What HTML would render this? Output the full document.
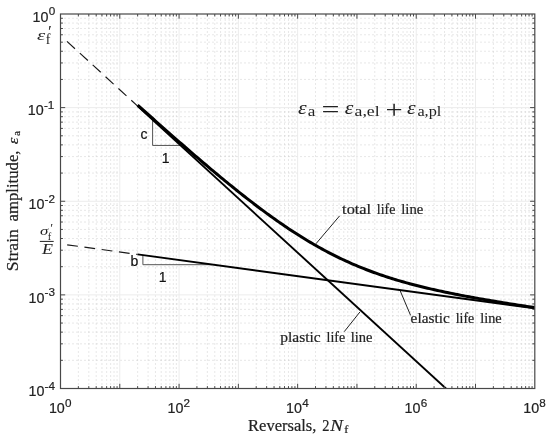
<!DOCTYPE html>
<html lang="en"><head><meta charset="utf-8"><title>Strain-life curve</title>
<style>html,body{margin:0;padding:0;background:#fff}svg{display:block}</style></head>
<body>
<svg width="550" height="439" viewBox="0 0 550 439">
<rect width="550" height="439" fill="#fff"/>
<g stroke="#c4c4c4" stroke-width="0.8" stroke-dasharray="1 3" fill="none">
<path d="M78.35 388.5V14.0"/>
<path d="M88.79 388.5V14.0"/>
<path d="M96.19 388.5V14.0"/>
<path d="M101.94 388.5V14.0"/>
<path d="M106.63 388.5V14.0"/>
<path d="M110.60 388.5V14.0"/>
<path d="M114.04 388.5V14.0"/>
<path d="M117.07 388.5V14.0"/>
<path d="M137.63 388.5V14.0"/>
<path d="M148.07 388.5V14.0"/>
<path d="M155.48 388.5V14.0"/>
<path d="M161.23 388.5V14.0"/>
<path d="M165.92 388.5V14.0"/>
<path d="M169.89 388.5V14.0"/>
<path d="M173.33 388.5V14.0"/>
<path d="M176.36 388.5V14.0"/>
<path d="M196.92 388.5V14.0"/>
<path d="M207.36 388.5V14.0"/>
<path d="M214.77 388.5V14.0"/>
<path d="M220.52 388.5V14.0"/>
<path d="M225.21 388.5V14.0"/>
<path d="M229.18 388.5V14.0"/>
<path d="M232.62 388.5V14.0"/>
<path d="M235.65 388.5V14.0"/>
<path d="M256.21 388.5V14.0"/>
<path d="M266.65 388.5V14.0"/>
<path d="M274.06 388.5V14.0"/>
<path d="M279.80 388.5V14.0"/>
<path d="M284.50 388.5V14.0"/>
<path d="M288.47 388.5V14.0"/>
<path d="M291.90 388.5V14.0"/>
<path d="M294.94 388.5V14.0"/>
<path d="M315.50 388.5V14.0"/>
<path d="M325.94 388.5V14.0"/>
<path d="M333.34 388.5V14.0"/>
<path d="M339.09 388.5V14.0"/>
<path d="M343.78 388.5V14.0"/>
<path d="M347.75 388.5V14.0"/>
<path d="M351.19 388.5V14.0"/>
<path d="M354.22 388.5V14.0"/>
<path d="M374.78 388.5V14.0"/>
<path d="M385.22 388.5V14.0"/>
<path d="M392.63 388.5V14.0"/>
<path d="M398.38 388.5V14.0"/>
<path d="M403.07 388.5V14.0"/>
<path d="M407.04 388.5V14.0"/>
<path d="M410.48 388.5V14.0"/>
<path d="M413.51 388.5V14.0"/>
<path d="M434.07 388.5V14.0"/>
<path d="M444.51 388.5V14.0"/>
<path d="M451.92 388.5V14.0"/>
<path d="M457.67 388.5V14.0"/>
<path d="M462.36 388.5V14.0"/>
<path d="M466.33 388.5V14.0"/>
<path d="M469.77 388.5V14.0"/>
<path d="M472.80 388.5V14.0"/>
<path d="M493.36 388.5V14.0"/>
<path d="M503.80 388.5V14.0"/>
<path d="M511.21 388.5V14.0"/>
<path d="M516.95 388.5V14.0"/>
<path d="M521.65 388.5V14.0"/>
<path d="M525.62 388.5V14.0"/>
<path d="M529.05 388.5V14.0"/>
<path d="M532.09 388.5V14.0"/>
<path d="M60.5 79.44H534.8"/>
<path d="M60.5 62.95H534.8"/>
<path d="M60.5 51.26H534.8"/>
<path d="M60.5 42.18H534.8"/>
<path d="M60.5 34.77H534.8"/>
<path d="M60.5 28.50H534.8"/>
<path d="M60.5 23.07H534.8"/>
<path d="M60.5 18.28H534.8"/>
<path d="M60.5 173.07H534.8"/>
<path d="M60.5 156.58H534.8"/>
<path d="M60.5 144.88H534.8"/>
<path d="M60.5 135.81H534.8"/>
<path d="M60.5 128.40H534.8"/>
<path d="M60.5 122.13H534.8"/>
<path d="M60.5 116.70H534.8"/>
<path d="M60.5 111.91H534.8"/>
<path d="M60.5 266.69H534.8"/>
<path d="M60.5 250.20H534.8"/>
<path d="M60.5 238.51H534.8"/>
<path d="M60.5 229.43H534.8"/>
<path d="M60.5 222.02H534.8"/>
<path d="M60.5 215.75H534.8"/>
<path d="M60.5 210.32H534.8"/>
<path d="M60.5 205.53H534.8"/>
<path d="M60.5 360.32H534.8"/>
<path d="M60.5 343.83H534.8"/>
<path d="M60.5 332.13H534.8"/>
<path d="M60.5 323.06H534.8"/>
<path d="M60.5 315.65H534.8"/>
<path d="M60.5 309.38H534.8"/>
<path d="M60.5 303.95H534.8"/>
<path d="M60.5 299.16H534.8"/>
</g>
<g stroke="#ececec" stroke-width="1" fill="none">
<path d="M119.79 388.5V14.0"/>
<path d="M179.07 388.5V14.0"/>
<path d="M238.36 388.5V14.0"/>
<path d="M297.65 388.5V14.0"/>
<path d="M356.94 388.5V14.0"/>
<path d="M416.22 388.5V14.0"/>
<path d="M475.51 388.5V14.0"/>
<path d="M60.5 107.62H534.8"/>
<path d="M60.5 201.25H534.8"/>
<path d="M60.5 294.88H534.8"/>
</g>
<clipPath id="cp"><rect x="60.5" y="14.0" width="474.29999999999995" height="374.5"/></clipPath>
<g clip-path="url(#cp)" fill="none" stroke="#000">
<path d="M137.63 106.10L60.50 35.45" stroke-dasharray="8.6 6.55 10.9 6.55 10.9 6.55 10.9 6.55 10.9 6.55 10.9 300" stroke="#1a1a1a" stroke-width="1.15"/>
<path d="M137.63 254.41L60.50 243.94" stroke-dasharray="1.5 6.6 10.8 6.6 10.8 6.6 10.8 6.6 10.8 300" stroke="#1a1a1a" stroke-width="1.15"/>
<path d="M152.6 117.93V145.45H181" stroke-width="1" stroke="#555"/>
<path d="M142.9 255.19V264.7H212" stroke-width="1" stroke="#555"/>
<path d="M137.63 106.10L534.80 469.87" stroke-width="1.9"/>
<path d="M137.63 254.41L534.80 308.35" stroke-width="1.9"/>
<path d="M137.63 105.06L139.62 106.84L141.61 108.61L143.59 110.39L145.58 112.16L147.56 113.94L149.55 115.71L151.54 117.47L153.52 119.24L155.51 121.01L157.49 122.77L159.48 124.53L161.46 126.29L163.45 128.05L165.44 129.80L167.42 131.55L169.41 133.30L171.39 135.05L173.38 136.79L175.37 138.53L177.35 140.27L179.34 142.01L181.32 143.74L183.31 145.47L185.29 147.19L187.28 148.92L189.27 150.64L191.25 152.35L193.24 154.06L195.22 155.77L197.21 157.47L199.20 159.17L201.18 160.87L203.17 162.56L205.15 164.25L207.14 165.93L209.12 167.61L211.11 169.28L213.10 170.95L215.08 172.61L217.07 174.26L219.05 175.91L221.04 177.56L223.03 179.20L225.01 180.83L227.00 182.46L228.98 184.08L230.97 185.69L232.95 187.29L234.94 188.89L236.93 190.49L238.91 192.07L240.90 193.65L242.88 195.22L244.87 196.78L246.86 198.33L248.84 199.87L250.83 201.41L252.81 202.93L254.80 204.45L256.78 205.96L258.77 207.46L260.76 208.94L262.74 210.42L264.73 211.89L266.71 213.35L268.70 214.79L270.69 216.23L272.67 217.65L274.66 219.07L276.64 220.47L278.63 221.86L280.61 223.24L282.60 224.61L284.59 225.96L286.57 227.30L288.56 228.63L290.54 229.95L292.53 231.25L294.52 232.54L296.50 233.82L298.49 235.08L300.47 236.33L302.46 237.56L304.44 238.79L306.43 239.99L308.42 241.19L310.40 242.37L312.39 243.53L314.37 244.68L316.36 245.82L318.34 246.94L320.33 248.04L322.32 249.14L324.30 250.21L326.29 251.28L328.27 252.32L330.26 253.36L332.25 254.37L334.23 255.38L336.22 256.37L338.20 257.34L340.19 258.30L342.17 259.25L344.16 260.18L346.15 261.09L348.13 261.99L350.12 262.88L352.10 263.76L354.09 264.61L356.08 265.46L358.06 266.29L360.05 267.11L362.03 267.92L364.02 268.71L366.00 269.49L367.99 270.25L369.98 271.00L371.96 271.75L373.95 272.47L375.93 273.19L377.92 273.89L379.91 274.58L381.89 275.27L383.88 275.93L385.86 276.59L387.85 277.24L389.83 277.87L391.82 278.50L393.81 279.12L395.79 279.72L397.78 280.32L399.76 280.90L401.75 281.48L403.74 282.04L405.72 282.60L407.71 283.15L409.69 283.69L411.68 284.22L413.66 284.75L415.65 285.26L417.64 285.77L419.62 286.27L421.61 286.76L423.59 287.25L425.58 287.73L427.57 288.20L429.55 288.66L431.54 289.12L433.52 289.58L435.51 290.02L437.49 290.46L439.48 290.90L441.47 291.33L443.45 291.75L445.44 292.17L447.42 292.58L449.41 292.99L451.40 293.40L453.38 293.80L455.37 294.19L457.35 294.58L459.34 294.97L461.32 295.35L463.31 295.73L465.30 296.11L467.28 296.48L469.27 296.84L471.25 297.21L473.24 297.57L475.23 297.93L477.21 298.28L479.20 298.63L481.18 298.98L483.17 299.33L485.15 299.67L487.14 300.01L489.13 300.35L491.11 300.68L493.10 301.02L495.08 301.35L497.07 301.68L499.06 302.00L501.04 302.33L503.03 302.65L505.01 302.97L507.00 303.29L508.98 303.61L510.97 303.92L512.96 304.24L514.94 304.55L516.93 304.86L518.91 305.17L520.90 305.48L522.89 305.78L524.87 306.09L526.86 306.39L528.84 306.69L530.83 306.99L532.81 307.29L534.80 307.59" stroke-width="3"/>
</g>
<g stroke="#222" stroke-width="1" fill="none">
<path d="M339.6 215.9L315.9 243.8"/>
<path d="M400.2 290.8L410.6 315.4"/>
<path d="M359.9 312L344.2 331.7"/>
</g>
<g stroke="#484848" stroke-width="1" fill="none">
<rect x="60.5" y="14.0" width="474.29999999999995" height="374.5" stroke-width="1.2"/>
<path d="M78.35 388.5v-2.4M78.35 14.0v2.4M88.79 388.5v-2.4M88.79 14.0v2.4M96.19 388.5v-2.4M96.19 14.0v2.4M101.94 388.5v-2.4M101.94 14.0v2.4M106.63 388.5v-2.4M106.63 14.0v2.4M110.60 388.5v-2.4M110.60 14.0v2.4M114.04 388.5v-2.4M114.04 14.0v2.4M117.07 388.5v-2.4M117.07 14.0v2.4M119.79 388.5v-4.7M119.79 14.0v4.7M137.63 388.5v-2.4M137.63 14.0v2.4M148.07 388.5v-2.4M148.07 14.0v2.4M155.48 388.5v-2.4M155.48 14.0v2.4M161.23 388.5v-2.4M161.23 14.0v2.4M165.92 388.5v-2.4M165.92 14.0v2.4M169.89 388.5v-2.4M169.89 14.0v2.4M173.33 388.5v-2.4M173.33 14.0v2.4M176.36 388.5v-2.4M176.36 14.0v2.4M179.07 388.5v-4.7M179.07 14.0v4.7M196.92 388.5v-2.4M196.92 14.0v2.4M207.36 388.5v-2.4M207.36 14.0v2.4M214.77 388.5v-2.4M214.77 14.0v2.4M220.52 388.5v-2.4M220.52 14.0v2.4M225.21 388.5v-2.4M225.21 14.0v2.4M229.18 388.5v-2.4M229.18 14.0v2.4M232.62 388.5v-2.4M232.62 14.0v2.4M235.65 388.5v-2.4M235.65 14.0v2.4M238.36 388.5v-4.7M238.36 14.0v4.7M256.21 388.5v-2.4M256.21 14.0v2.4M266.65 388.5v-2.4M266.65 14.0v2.4M274.06 388.5v-2.4M274.06 14.0v2.4M279.80 388.5v-2.4M279.80 14.0v2.4M284.50 388.5v-2.4M284.50 14.0v2.4M288.47 388.5v-2.4M288.47 14.0v2.4M291.90 388.5v-2.4M291.90 14.0v2.4M294.94 388.5v-2.4M294.94 14.0v2.4M297.65 388.5v-4.7M297.65 14.0v4.7M315.50 388.5v-2.4M315.50 14.0v2.4M325.94 388.5v-2.4M325.94 14.0v2.4M333.34 388.5v-2.4M333.34 14.0v2.4M339.09 388.5v-2.4M339.09 14.0v2.4M343.78 388.5v-2.4M343.78 14.0v2.4M347.75 388.5v-2.4M347.75 14.0v2.4M351.19 388.5v-2.4M351.19 14.0v2.4M354.22 388.5v-2.4M354.22 14.0v2.4M356.94 388.5v-4.7M356.94 14.0v4.7M374.78 388.5v-2.4M374.78 14.0v2.4M385.22 388.5v-2.4M385.22 14.0v2.4M392.63 388.5v-2.4M392.63 14.0v2.4M398.38 388.5v-2.4M398.38 14.0v2.4M403.07 388.5v-2.4M403.07 14.0v2.4M407.04 388.5v-2.4M407.04 14.0v2.4M410.48 388.5v-2.4M410.48 14.0v2.4M413.51 388.5v-2.4M413.51 14.0v2.4M416.22 388.5v-4.7M416.22 14.0v4.7M434.07 388.5v-2.4M434.07 14.0v2.4M444.51 388.5v-2.4M444.51 14.0v2.4M451.92 388.5v-2.4M451.92 14.0v2.4M457.67 388.5v-2.4M457.67 14.0v2.4M462.36 388.5v-2.4M462.36 14.0v2.4M466.33 388.5v-2.4M466.33 14.0v2.4M469.77 388.5v-2.4M469.77 14.0v2.4M472.80 388.5v-2.4M472.80 14.0v2.4M475.51 388.5v-4.7M475.51 14.0v4.7M493.36 388.5v-2.4M493.36 14.0v2.4M503.80 388.5v-2.4M503.80 14.0v2.4M511.21 388.5v-2.4M511.21 14.0v2.4M516.95 388.5v-2.4M516.95 14.0v2.4M521.65 388.5v-2.4M521.65 14.0v2.4M525.62 388.5v-2.4M525.62 14.0v2.4M529.05 388.5v-2.4M529.05 14.0v2.4M532.09 388.5v-2.4M532.09 14.0v2.4M60.5 79.44h2.4M534.8 79.44h-2.4M60.5 62.95h2.4M534.8 62.95h-2.4M60.5 51.26h2.4M534.8 51.26h-2.4M60.5 42.18h2.4M534.8 42.18h-2.4M60.5 34.77h2.4M534.8 34.77h-2.4M60.5 28.50h2.4M534.8 28.50h-2.4M60.5 23.07h2.4M534.8 23.07h-2.4M60.5 18.28h2.4M534.8 18.28h-2.4M60.5 107.62h4.7M534.8 107.62h-4.7M60.5 173.07h2.4M534.8 173.07h-2.4M60.5 156.58h2.4M534.8 156.58h-2.4M60.5 144.88h2.4M534.8 144.88h-2.4M60.5 135.81h2.4M534.8 135.81h-2.4M60.5 128.40h2.4M534.8 128.40h-2.4M60.5 122.13h2.4M534.8 122.13h-2.4M60.5 116.70h2.4M534.8 116.70h-2.4M60.5 111.91h2.4M534.8 111.91h-2.4M60.5 201.25h4.7M534.8 201.25h-4.7M60.5 266.69h2.4M534.8 266.69h-2.4M60.5 250.20h2.4M534.8 250.20h-2.4M60.5 238.51h2.4M534.8 238.51h-2.4M60.5 229.43h2.4M534.8 229.43h-2.4M60.5 222.02h2.4M534.8 222.02h-2.4M60.5 215.75h2.4M534.8 215.75h-2.4M60.5 210.32h2.4M534.8 210.32h-2.4M60.5 205.53h2.4M534.8 205.53h-2.4M60.5 294.88h4.7M534.8 294.88h-4.7M60.5 360.32h2.4M534.8 360.32h-2.4M60.5 343.83h2.4M534.8 343.83h-2.4M60.5 332.13h2.4M534.8 332.13h-2.4M60.5 323.06h2.4M534.8 323.06h-2.4M60.5 315.65h2.4M534.8 315.65h-2.4M60.5 309.38h2.4M534.8 309.38h-2.4M60.5 303.95h2.4M534.8 303.95h-2.4M60.5 299.16h2.4M534.8 299.16h-2.4"/>
</g>
<g font-family="Liberation Sans, sans-serif" font-size="14.3" fill="#222" stroke="#222" stroke-width="0.2">
<text x="48.90" y="413.3">10<tspan dy="-6.5" dx="0.2" font-size="11.7">0</tspan></text>
<text x="167.47" y="413.3">10<tspan dy="-6.5" dx="0.2" font-size="11.7">2</tspan></text>
<text x="286.05" y="413.3">10<tspan dy="-6.5" dx="0.2" font-size="11.7">4</tspan></text>
<text x="404.62" y="413.3">10<tspan dy="-6.5" dx="0.2" font-size="11.7">6</tspan></text>
<text x="523.20" y="413.3">10<tspan dy="-6.5" dx="0.2" font-size="11.7">8</tspan></text>
<text x="32.60" y="21.80">10<tspan dy="-6.5" dx="0.2" font-size="11.7">0</tspan></text>
<text x="27.80" y="115.42">10<tspan dy="-6.5" dx="0.2" font-size="11.7">-1</tspan></text>
<text x="28.50" y="209.05">10<tspan dy="-6.5" dx="0.2" font-size="11.7">-2</tspan></text>
<text x="28.50" y="302.68">10<tspan dy="-6.5" dx="0.2" font-size="11.7">-3</tspan></text>
<text x="28.50" y="396.30">10<tspan dy="-6.5" dx="0.2" font-size="11.7">-4</tspan></text>
</g>
<g font-family="Liberation Sans, sans-serif" font-size="14" fill="#111" stroke="#111" stroke-width="0.2">
<text x="140.4" y="138.9">c</text>
<text x="161.8" y="163.2">1</text>
<text x="130.4" y="265.5">b</text>
<text x="158.8" y="281.5">1</text>
</g>
<g font-family="Liberation Serif, serif" fill="#222" stroke="#222" stroke-width="0.2">
<text y="213.8" font-size="14.2"><tspan x="342.1" textLength="29.0" lengthAdjust="spacingAndGlyphs">total</tspan> <tspan x="376.8" textLength="18.6" lengthAdjust="spacingAndGlyphs">life</tspan> <tspan x="401.3" textLength="22.0" lengthAdjust="spacingAndGlyphs">line</tspan></text>
<text y="322.8" font-size="14.2"><tspan x="410.6" textLength="39.1" lengthAdjust="spacingAndGlyphs">elastic</tspan> <tspan x="455.7" textLength="18.6" lengthAdjust="spacingAndGlyphs">life</tspan> <tspan x="480.3" textLength="21.4" lengthAdjust="spacingAndGlyphs">line</tspan></text>
<text y="341.6" font-size="14.2"><tspan x="280.3" textLength="40.4" lengthAdjust="spacingAndGlyphs">plastic</tspan> <tspan x="326.6" textLength="18.6" lengthAdjust="spacingAndGlyphs">life</tspan> <tspan x="350.8" textLength="21.7" lengthAdjust="spacingAndGlyphs">line</tspan></text>
<text y="430.7" font-size="15.8"><tspan x="248.1" textLength="68.3" lengthAdjust="spacingAndGlyphs">Reversals,</tspan> <tspan x="322.3" textLength="7.2" lengthAdjust="spacingAndGlyphs">2</tspan><tspan x="330.3" font-style="italic" textLength="12.7" lengthAdjust="spacingAndGlyphs">N</tspan><tspan x="344.3" y="433.2" font-size="11" textLength="4.1" lengthAdjust="spacingAndGlyphs">f</tspan></text>
<g transform="translate(17.7 271.3) rotate(-90)">
<text y="0" font-size="15.8"><tspan x="0" textLength="42.2" lengthAdjust="spacingAndGlyphs">Strain</tspan> <tspan x="49.9" textLength="70.9" lengthAdjust="spacingAndGlyphs">amplitude,</tspan> <tspan x="127.0" font-size="14.5" font-style="italic" textLength="6.6" lengthAdjust="spacingAndGlyphs">ε</tspan><tspan x="135.2" y="2.4" font-size="11" textLength="5.0" lengthAdjust="spacingAndGlyphs">a</tspan></text>
</g>
<text stroke="none" font-size="18"><tspan x="298.1" y="113.5" font-size="18" font-style="italic" textLength="8.6" lengthAdjust="spacingAndGlyphs">ε</tspan><tspan x="307.8" y="116.4" font-size="14" textLength="7.6" lengthAdjust="spacingAndGlyphs">a</tspan> <tspan x="321.5" y="117.8" font-size="25" textLength="18" lengthAdjust="spacingAndGlyphs">=</tspan> <tspan x="344.7" y="113.5" font-size="18" font-style="italic" textLength="8.6" lengthAdjust="spacingAndGlyphs">ε</tspan><tspan x="354.6" y="116.4" font-size="14" textLength="25" lengthAdjust="spacingAndGlyphs">a,el</tspan> <tspan x="385.6" y="117.6" font-size="26" textLength="17.2" lengthAdjust="spacingAndGlyphs">+</tspan> <tspan x="406.9" y="113.5" font-size="18" font-style="italic" textLength="8.6" lengthAdjust="spacingAndGlyphs">ε</tspan><tspan x="417.4" y="116.4" font-size="14" textLength="23.9" lengthAdjust="spacingAndGlyphs">a,pl</tspan></text>
<g stroke="none">
<text font-size="15.5"><tspan x="37.1" y="40.0" font-size="15.5" font-style="italic" textLength="8.2" lengthAdjust="spacingAndGlyphs">ε</tspan><tspan x="46.9" y="36.6" font-size="17" font-style="italic">′</tspan><tspan x="45.8" y="44.4" font-size="14">f</tspan></text>
<text font-size="13"><tspan x="40.1" y="234.5" font-size="13" font-style="italic" textLength="8.3" lengthAdjust="spacingAndGlyphs">σ</tspan><tspan x="49.5" y="231.6" font-size="13" font-style="italic">′</tspan><tspan x="47.7" y="240.4" font-size="10.5">f</tspan></text>
<rect x="39.8" y="240.9" width="13.9" height="1" fill="#222"/>
<text x="41.9" y="254.3" font-size="14" font-style="italic" textLength="11" lengthAdjust="spacingAndGlyphs">E</text>
</g>
</g>
</svg>
</body></html>
